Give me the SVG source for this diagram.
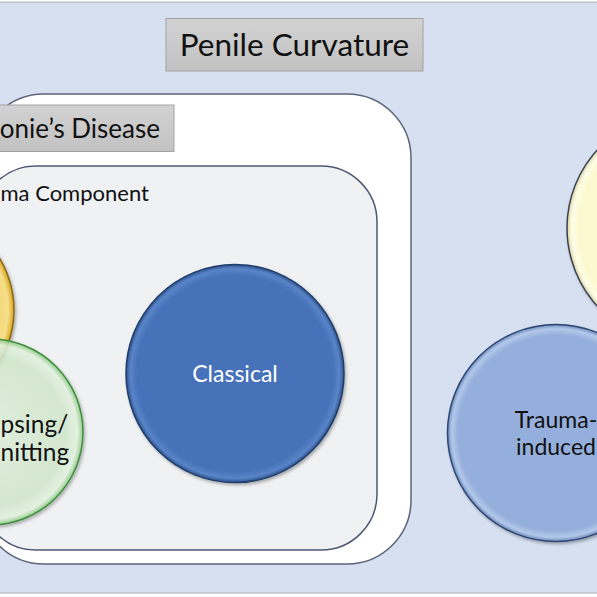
<svg xmlns="http://www.w3.org/2000/svg" width="597" height="597" viewBox="0 0 597 597">
  <style>
    .t { font-family: Lato, "Open Sans", "Liberation Sans", sans-serif; fill: #111; }
    .label { fill: url(#gGray); stroke: #a3a3a3; stroke-width: 1; }
  </style>
  <defs>
    <linearGradient id="gGray" x1="0" y1="0" x2="0" y2="1">
      <stop offset="0" stop-color="#d2d2d2"/>
      <stop offset="1" stop-color="#c2c2c2"/>
    </linearGradient>
    <radialGradient id="gBlue" cx="0.5" cy="0.5" r="0.5">
      <stop offset="0" stop-color="#4672b9"/>
      <stop offset="0.9" stop-color="#4672b9"/>
      <stop offset="0.96" stop-color="#5a84c8"/>
      <stop offset="1" stop-color="#2f558f"/>
    </radialGradient>
    <radialGradient id="gLBlue" cx="0.5" cy="0.5" r="0.5">
      <stop offset="0" stop-color="#95afdc"/>
      <stop offset="0.9" stop-color="#95afdc"/>
      <stop offset="0.96" stop-color="#b3c8ea"/>
      <stop offset="1" stop-color="#6d8bbd"/>
    </radialGradient>
    <radialGradient id="gPale" cx="0.5" cy="0.5" r="0.5">
      <stop offset="0" stop-color="#fcf9d0"/>
      <stop offset="0.9" stop-color="#fcf9d0"/>
      <stop offset="0.96" stop-color="#fffde8"/>
      <stop offset="1" stop-color="#d9d3a0"/>
    </radialGradient>
    <radialGradient id="gYellow" cx="0.5" cy="0.5" r="0.5">
      <stop offset="0" stop-color="#f7e39a"/>
      <stop offset="0.8" stop-color="#f3d270"/>
      <stop offset="0.94" stop-color="#f6df8a"/>
      <stop offset="1" stop-color="#d9a420"/>
    </radialGradient>
    <radialGradient id="gGreen" cx="0.5" cy="0.5" r="0.5">
      <stop offset="0" stop-color="#e2f2de"/>
      <stop offset="0.8" stop-color="#d4ebcf"/>
      <stop offset="0.94" stop-color="#e6f5e2"/>
      <stop offset="1" stop-color="#8ccc85"/>
    </radialGradient>
    <filter id="sh" x="-10%" y="-10%" width="125%" height="125%">
      <feDropShadow dx="1.5" dy="2" stdDeviation="1.5" flood-color="#000" flood-opacity="0.3"/>
    </filter>
  </defs>

  <!-- background frame -->
  <rect x="-5" y="2" width="607" height="591" fill="#d6e0f1" stroke="#a9aeb6" stroke-width="1"/>

  <g id="penile-curvature">
    <rect class="label" x="166" y="18.5" width="257" height="52.5"/>
    <text class="t" x="294.5" y="56" font-size="31.5" text-anchor="middle">Penile Curvature</text>
  </g>

  <g id="peyronies-disease">
    <rect x="-20" y="94" width="431" height="470" rx="64" ry="64" fill="#ffffff" stroke="#5b6479" stroke-width="1.5"/>
    <rect class="label" x="-5" y="105" width="179" height="46.5"/>
    <text class="t" x="160" y="138" font-size="26" text-anchor="end">onie’s Disease</text>
  </g>

  <g id="trauma-component">
    <rect x="-20" y="166" width="397" height="384" rx="56" ry="56" fill="#eff1f3" stroke="#4f5872" stroke-width="1.5"/>
    <text class="t" x="0.5" y="201" font-size="22">ma Component</text>
  </g>

  <g id="yellow-left">
    <circle cx="-86" cy="310" r="100" fill="url(#gYellow)" stroke="#8a6b12" stroke-width="1.5" filter="url(#sh)"/>
  </g>

  <g id="collapsing">
    <circle cx="-10" cy="432" r="93" fill="url(#gGreen)" fill-opacity="0.85" stroke="#3f8f3c" stroke-width="1.5" filter="url(#sh)"/>
    <text class="t" x="0.5" y="433" font-size="24.5">psing/</text>
    <text class="t" x="0.5" y="461" font-size="24.5">nitting</text>
  </g>

  <g id="classical">
    <circle cx="235" cy="373.5" r="109" fill="url(#gBlue)" stroke="#213d6b" stroke-width="1.5" filter="url(#sh)"/>
    <text class="t" x="235" y="382" font-size="23" text-anchor="middle" style="fill:#ffffff">Classical</text>
  </g>

  <g id="pale-yellow">
    <circle cx="683" cy="228" r="116" fill="url(#gPale)" stroke="#3c4256" stroke-width="1.5" filter="url(#sh)"/>
  </g>

  <g id="trauma-induced">
    <circle cx="556" cy="433" r="108.5" fill="url(#gLBlue)" stroke="#2e4671" stroke-width="1.5" filter="url(#sh)"/>
    <text class="t" x="556" y="428" font-size="23" text-anchor="middle">Trauma-</text>
    <text class="t" x="556" y="455" font-size="23" text-anchor="middle">induced</text>
  </g>

  <g id="connectors"/>
</svg>
